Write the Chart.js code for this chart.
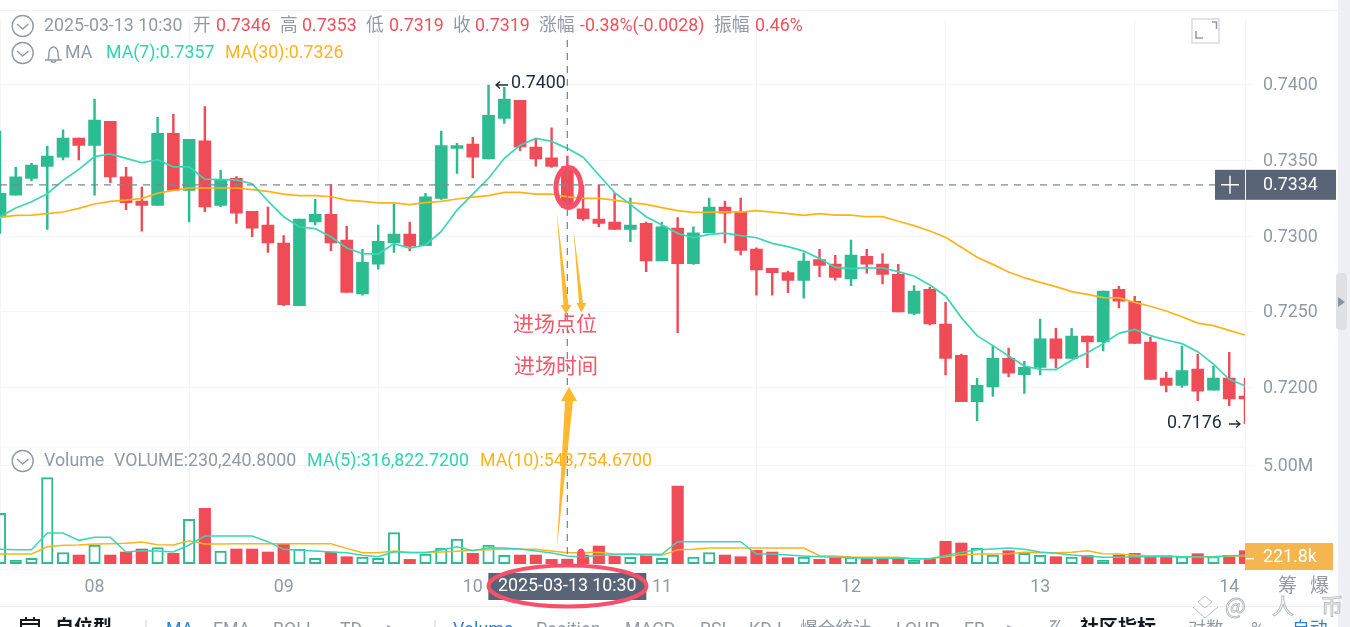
<!DOCTYPE html>
<html lang="zh">
<head>
<meta charset="utf-8">
<title>K-line 2025-03-13</title>
<script src="https://cdn.jsdelivr.net/npm/chart.js@4"></script>
<style>
  html, body { margin: 0; padding: 0; background: #fff; }
  body { width: 1350px; height: 627px; position: relative; overflow: hidden; font-family: Roboto, "Noto Sans CJK SC", sans-serif; font-size: 17.8px; color: #929aa5; }
  #wrap { position: absolute; left: 0; top: 0; width: 1350px; height: 627px; }
  #overlay { position: absolute; left: 0; top: 0; }
  .t { position: absolute; white-space: nowrap; line-height: 20px; }
  .r { color: #f0505c; } .g { color: #2fd5b0; } .o { color: #ffb31a; }
  .d { color: #1e2a44; }
  .b { color: #2b7fe0; }
  .k { color: #14181f; font-weight: 700; }
  .note { color: #f4566a; font-size: 21px; font-family: "Noto Sans CJK SC", sans-serif; }
  #strip { position: absolute; left: 1338px; top: 0; width: 12px; height: 627px; background: #eef0f6; }
  #handle { position: absolute; left: 1336px; top: 273px; width: 11px; height: 57px; background: #dfe1e5; border-radius: 4px; }
  #topline { position: absolute; left: 0; top: 10px; width: 1338px; height: 1px; background: #f1f2f4; }
  #botline { position: absolute; left: 0; top: 606px; width: 1338px; height: 1px; background: #eceef0; }
</style>
</head>
<body>
<div id="strip"></div>
<div id="wrap"><canvas id="kline" width="1350" height="627"></canvas></div>
<div id="topline"></div>
<div id="botline"></div>
<div id="handle"></div>

<!-- legend rows -->
<span class="t" style="left:44px;top:15px">2025-03-13 10:30</span>
<span class="t" style="left:193px;top:15px">开</span><span class="t r" style="left:216px;top:15px">0.7346</span>
<span class="t" style="left:280px;top:15px">高</span><span class="t r" style="left:302px;top:15px">0.7353</span>
<span class="t" style="left:366px;top:15px">低</span><span class="t r" style="left:389px;top:15px">0.7319</span>
<span class="t" style="left:453px;top:15px">收</span><span class="t r" style="left:475px;top:15px">0.7319</span>
<span class="t" style="left:539px;top:15px">涨幅</span><span class="t r" style="left:580px;top:15px">-0.38%(-0.0028)</span>
<span class="t" style="left:714px;top:15px">振幅</span><span class="t r" style="left:755px;top:15px">0.46%</span>
<span class="t" style="left:65px;top:42px">MA</span>
<span class="t g" style="left:106px;top:42px">MA(7):0.7357</span>
<span class="t o" style="left:225px;top:42px">MA(30):0.7326</span>
<span class="t" style="left:44px;top:450px">Volume</span>
<span class="t" style="left:114px;top:450px">VOLUME:230,240.8000</span>
<span class="t g" style="left:307px;top:450px">MA(5):316,822.7200</span>
<span class="t o" style="left:480px;top:450px">MA(10):543,754.6700</span>

<!-- high / low markers -->
<span class="t d" style="left:511px;top:72px">0.7400</span>
<span class="t d" style="left:1167px;top:412px">0.7176</span>

<!-- hand drawn notes -->
<span class="t note" style="left:513px;top:312px">进场点位</span>
<span class="t note" style="left:514px;top:354px">进场时间</span>

<!-- time axis side labels -->
<span class="t" style="left:1278px;top:576px;font-size:19px">筹</span>
<span class="t" style="left:1310px;top:576px;font-size:19px">爆</span>

<!-- bottom toolbar, cut off by the window -->
<span class="t k" style="left:55px;top:618px;font-size:19px">自位型</span>
<span class="t b" style="left:166px;top:619px">MA</span>
<span class="t" style="left:213px;top:619px">EMA</span>
<span class="t" style="left:273px;top:619px">BOLL</span>
<span class="t" style="left:340px;top:619px">TD</span>
<span class="t" style="left:386px;top:619px">&gt;</span>
<span class="t b" style="left:453px;top:619px">Volume</span>
<span class="t" style="left:536px;top:619px">Position</span>
<span class="t" style="left:625px;top:619px">MACD</span>
<span class="t" style="left:700px;top:619px">RSI</span>
<span class="t" style="left:749px;top:619px">KDJ</span>
<span class="t" style="left:800px;top:619px">爆仓统计</span>
<span class="t" style="left:896px;top:619px">LQUR</span>
<span class="t" style="left:964px;top:619px">EB</span>
<span class="t" style="left:1006px;top:619px">&gt;</span>
<span class="t k" style="left:1080px;top:618px;font-size:19px">社区指标</span>
<span class="t" style="left:1188px;top:619px">对数</span>
<span class="t" style="left:1251px;top:619px">%</span>
<span class="t b" style="left:1292px;top:619px">自动</span>

<svg id="overlay" width="1350" height="627" xmlns="http://www.w3.org/2000/svg">
  <!-- collapse chevrons -->
  <g fill="none" stroke="#929aa5" stroke-width="1.4">
    <circle cx="22.7" cy="26" r="10.5"/><path d="M17 24l5.7 5 5.7-5"/>
    <circle cx="22.7" cy="53" r="10.5"/><path d="M17 51l5.7 5 5.7-5"/>
    <circle cx="22.7" cy="461" r="10.5"/><path d="M17 459l5.7 5 5.7-5"/>
    <path d="M45 60h17M48 60c1-3 1-4 1-7 0-3 2-6 4.500-6s4.500 3 4.500 6c0 3 0 4 1 7M51 60c0 3 5 3 5 0"/>
  </g>
  <!-- fullscreen button -->
  <rect x="1192" y="19" width="27" height="24" fill="#fff" stroke="#dcdee2" stroke-width="1.6"/>
  <path d="M1212 22h4.500v7M1196 31v7h7" fill="none" stroke="#929aa5" stroke-width="1.5"/>
  <!-- scroll handle arrow -->
  <path d="M1338 297l7 5-7 5z" fill="#8a93a0"/>
  <!-- toolbar icon and dividers -->
  <g fill="none" stroke="#14181f" stroke-width="2"><path d="M21 627v-7h18v7M21 624h18M26 617v4M34 617v4"/></g>
  <path d="M146 620v7M435 620v7" stroke="#d5d8dc" stroke-width="1.2"/>
  <path d="M1050 621h6l-5 6M1060 620l-4 7" fill="none" stroke="#929aa5" stroke-width="1.3"/>
  <!-- marker arrows -->
  <path d="M508 85h-12M500 81.500l-4 3.500 4 3.500" fill="none" stroke="#1e2a44" stroke-width="1.3"/>
  <path d="M1229 424h11M1236 420.500l4 3.500-4 3.500" fill="none" stroke="#1e2a44" stroke-width="1.3"/>
  <!-- entry annotations -->
  <ellipse cx="568.500" cy="187.500" rx="12.500" ry="20" fill="none" stroke="#f7506a" stroke-width="5"/>
  <g fill="#ffb92e">
    <path d="M556.700 212L563.500 305H560.500L566 314L571.500 305H568.500z"/>
    <path d="M573.300 228L579 303H576.500L581.300 312.500L586.500 303H583z"/>
    <path d="M556.700 550L565 401H561L569 387L577 401H573z"/>
  </g>
  <ellipse cx="581" cy="554" rx="4" ry="5.500" fill="#f7506a"/>
  <ellipse cx="567.500" cy="586" rx="79" ry="20.500" fill="none" stroke="#f7506a" stroke-width="4"/>
  <!-- watermark -->
  <g fill="#fff" stroke="#b4b7bc" stroke-width="0.9" font-family="Noto Sans CJK SC, sans-serif">
    <path d="M1205 596l7 6-7 6-7-6zM1193 607l12 11 13-11" fill="none"/>
    <text x="1225" y="614" font-size="22">@</text>
    <text x="1272" y="614" font-size="22">人</text>
    <text x="1321" y="614" font-size="22">币</text>
  </g>
</svg>

<script>
// 2h candles, one per slot
const categories = [
  '', '', '', '', '', '', '08', '', '', '', '', '', '', '', '', '', '', '', '09', '',
  '', '', '', '', '', '', '', '', '', '', '10', '', '', '', '', '', '', '', '', '',
  '', '', '11', '', '', '', '', '', '', '', '', '', '', '', '12', '', '', '', '', '',
  '', '', '', '', '', '', '13', '', '', '', '', '', '', '', '', '', '', '', '14', ''
];
const opens = [
  .73129, .73272, .73383, .73462, .73522, .73649, .73601, .73760, .73392, .73233,
  .73204, .73680, .73303, .73630, .73204, .73383, .73165, .73074, .72955, .72541,
  .73094, .73145, .72975, .72618, .72816, .72955, .73015, .72938, .73250, .73581,
  .73610, .73511, .73779, .73898, .73590, .73519, .73460, .73182, .73114, .73094,
  .73045, .73085, .72836, .73054, .72818, .73023, .73193, .73162, .72915, .72788,
  .72759, .72708, .72845, .72816, .72717, .72867, .72816, .72748, .72490, .72649,
  .72420, .72213, .71906, .72003, .72193, .72085, .72133, .72321, .72193, .72340,
  .72301, .72649, .72570, .72301, .72063, .72014, .72122, .71983, .72063, .71944
];
const highs = [
  .73696, .73455, .73482, .73596, .73704, .73649, .73907, .73760, .73455, .73325,
  .73786, .73806, .73641, .73857, .73438, .73394, .73165, .73193, .73004, .73114,
  .73244, .73343, .73065, .72913, .73074, .73215, .73094, .73284, .73696, .73614,
  .73654, .74000, .73984, .73898, .73641, .73716, .73530, .73339, .73339, .73284,
  .73253, .73094, .73094, .73123, .73063, .73253, .73233, .73253, .72924, .72788,
  .72770, .72891, .72913, .72874, .72975, .72913, .72885, .72814, .72673, .72662,
  .72563, .72221, .72060, .72277, .72261, .72173, .72453, .72391, .72391, .72340,
  .72638, .72669, .72603, .72332, .72102, .72272, .72221, .72142, .72232, .72063
];
const lows = [
  .73019, .73272, .73365, .73045, .73504, .73504, .73272, .73354, .73176, .73034,
  .73204, .73303, .73094, .73162, .73195, .73085, .72997, .72893, .72541, .72541,
  .73074, .72904, .72629, .72611, .72783, .72893, .72904, .72938, .73244, .73416,
  .73385, .73511, .73746, .73566, .73464, .73455, .73190, .73105, .73063, .73045,
  .72964, .72766, .72836, .72362, .72814, .73023, .72955, .72876, .72611, .72611,
  .72627, .72591, .72733, .72710, .72673, .72755, .72684, .72499, .72481, .72413,
  .72083, .71906, .71781, .71941, .72072, .71961, .72083, .72129, .72193, .72131,
  .72241, .72526, .72292, .72054, .71970, .72001, .71913, .71983, .71880, .71760
];
const closes = [
  .73284, .73392, .73471, .73530, .73649, .73601, .73768, .73392, .73222, .73204,
  .73680, .73303, .73641, .73193, .73374, .73153, .73054, .72955, .72547, .73114,
  .73145, .72955, .72629, .72827, .72966, .73015, .72935, .73261, .73599, .73599,
  .73522, .73799, .73907, .73590, .73511, .73462, .73190, .73116, .73085, .73045,
  .73074, .72836, .73063, .72818, .73023, .73193, .73153, .72907, .72777, .72759,
  .72708, .72836, .72807, .72728, .72876, .72816, .72748, .72499, .72638, .72420,
  .72193, .71906, .72014, .72193, .72094, .72133, .72321, .72193, .72340, .72301,
  .72638, .72570, .72292, .72054, .72014, .72111, .71975, .72063, .71924, .71924
];
const ma7 = [
  .73129, .73187, .73228, .73281, .73369, .73442, .73526, .73544, .73515, .73486,
  .73506, .73458, .73458, .73378, .73374, .73372, .73347, .73233, .73129, .73061,
  .73050, .72997, .72922, .72885, .72882, .72951, .72922, .72942, .73032, .73173,
  .73279, .73383, .73515, .73601, .73647, .73627, .73581, .73522, .73405, .73288,
  .73211, .73129, .73074, .73019, .72990, .73012, .73021, .73004, .72990, .72953,
  .72931, .72902, .72852, .72794, .72786, .72792, .72790, .72766, .72737, .72678,
  .72605, .72462, .72343, .72277, .72208, .72142, .72120, .72118, .72180, .72230,
  .72290, .72358, .72384, .72343, .72314, .72290, .72237, .72155, .72054, .72012
];
const ma30 = [
  .73125, .73138, .73140, .73149, .73160, .73184, .73213, .73231, .73239, .73250,
  .73284, .73303, .73319, .73319, .73319, .73319, .73308, .73297, .73279, .73268,
  .73268, .73261, .73239, .73231, .73220, .73220, .73209, .73222, .73231, .73246,
  .73259, .73268, .73290, .73290, .73279, .73279, .73260, .73250, .73250, .73239,
  .73222, .73211, .73189, .73169, .73158, .73158, .73162, .73160, .73169, .73160,
  .73149, .73138, .73149, .73140, .73140, .73129, .73129, .73099, .73070, .73035,
  .72993, .72927, .72861, .72814, .72764, .72726, .72695, .72667, .72634, .72616,
  .72594, .72592, .72563, .72537, .72506, .72468, .72426, .72409, .72378, .72347
];
const volumes = [
  2559, 186, 271, 4373, 559, 441, 949, 441, 593, 746,
  814, 525, 2254, 2814, 644, 746, 746, 593, 1000, 729,
  271, 593, 356, 339, 271, 1576, 220, 492, 797, 1254,
  525, 949, 424, 441, 441, 220, 230, 441, 898, 373,
  322, 424, 271, 3949, 339, 559, 441, 356, 678, 593,
  305, 339, 220, 305, 339, 254, 254, 254, 186, 254,
  1136, 1051, 797, 441, 661, 525, 424, 356, 339, 424,
  186, 441, 525, 356, 424, 356, 508, 356, 424, 661
].map(v => v * 1000);
const volMa5 = [
  729, 712, 712, 1559, 1559, 1186, 1339, 1339, 593, 661,
  644, 593, 949, 1407, 1407, 1407, 1407, 1119, 729, 678,
  644, 593, 559, 424, 356, 610, 559, 559, 695, 864,
  661, 814, 797, 746, 644, 542, 390, 339, 424, 458,
  475, 475, 475, 1119, 1119, 1119, 1119, 1119, 492, 492,
  441, 390, 356, 322, 305, 271, 271, 271, 254, 254,
  407, 576, 712, 746, 797, 729, 593, 525, 441, 390,
  322, 322, 356, 356, 356, 356, 339, 356, 407, 424
].map(v => v * 1000);
const volMa10 = [
  492, 492, 492, 864, 932, 949, 1000, 1017, 1034, 1102,
  966, 949, 1170, 1000, 1000, 1017, 1017, 1017, 1017, 1017,
  1017, 1017, 780, 559, 559, 644, 576, 576, 593, 627,
  678, 712, 729, 729, 729, 644, 559, 559, 576, 492,
  492, 424, 424, 712, 729, 797, 797, 797, 797, 797,
  797, 797, 407, 390, 339, 322, 322, 322, 254, 254,
  356, 458, 492, 492, 509, 576, 559, 559, 576, 661,
  509, 492, 424, 407, 407, 356, 356, 356, 373, 407
].map(v => v * 1000);
const priceTicks = [0.72, 0.725, 0.73, 0.735, 0.74];
const volumeTicks = [5000000];
const crossPrice = 0.7334;
const crossIndex = 36;
const crossTime = '2025-03-13 10:30';
const lastVolumeLabel = '221.8k';

const UP = '#2dbb92';
const DOWN = '#f04c58';
const GRID = '#f5f6f7';
const TICK_TEXT = '#929aa5';
const FONT = { family: 'Roboto', size: 17.8 };

const candleColors = closes.map((c, i) => (c >= opens[i] ? UP : DOWN));
const bodies = opens.map((o, i) => [o, closes[i]]);
const wicks = lows.map((l, i) => [l, highs[i]]);

// crosshair, its axis tags and the pane separators
const crosshairPlugin = {
  id: 'crosshair',
  afterDatasetsDraw(chart) {
    const { ctx, scales } = chart;
    const y = scales.y.getPixelForValue(crossPrice);
    const x = scales.x.getPixelForValue(crossIndex);
    ctx.save();
    ctx.strokeStyle = GRID;
    ctx.lineWidth = 1;
    ctx.beginPath();
    ctx.moveTo(0, scales.y.bottom);
    ctx.lineTo(scales.x.right, scales.y.bottom);
    ctx.stroke();

    ctx.strokeStyle = '#7f8797';
    ctx.lineWidth = 1.3;
    ctx.setLineDash([7, 6]);
    ctx.beginPath();
    ctx.moveTo(0, y);
    ctx.lineTo(1215, y);
    ctx.moveTo(x, 40);
    ctx.lineTo(x, scales.x.top);
    ctx.stroke();
    ctx.setLineDash([]);

    ctx.fillStyle = '#5a6477';
    ctx.fillRect(1215, y - 15, 30, 30);
    ctx.fillRect(1246, y - 15, 90, 30);
    ctx.fillRect(x - 79, 573, 158, 27);
    ctx.strokeStyle = '#fff';
    ctx.lineWidth = 1.4;
    ctx.beginPath();
    ctx.moveTo(1221, y);
    ctx.lineTo(1239, y);
    ctx.moveTo(1230, y - 9);
    ctx.lineTo(1230, y + 9);
    ctx.stroke();

    ctx.fillStyle = '#fff';
    ctx.font = '17.8px Roboto';
    ctx.textBaseline = 'middle';
    ctx.fillText(crossPrice.toFixed(4), 1263, y + 0.5);
    ctx.textAlign = 'center';
    ctx.fillText(crossTime, x, 586.5);
    ctx.textAlign = 'left';

    ctx.fillStyle = '#f6b64f';
    ctx.fillRect(1245, 543, 88, 27);
    ctx.fillStyle = '#fff';
    ctx.fillRect(1246, 558, 8, 1.4);
    ctx.fillText(lastVolumeLabel, 1263, 558);
    ctx.restore();
  }
};

new Chart(document.getElementById('kline'), {
  type: 'bar',
  data: {
    labels: categories,
    datasets: [
      { label: 'wick', data: wicks, yAxisID: 'y', backgroundColor: candleColors, barThickness: 1.8, order: 4 },
      { label: 'body', data: bodies, yAxisID: 'y', backgroundColor: candleColors, barThickness: 12, order: 3 },
      { type: 'line', label: 'MA(7)', data: ma7, yAxisID: 'y', borderColor: '#3ad6b5', borderWidth: 1.7, pointRadius: 0, order: 1 },
      { type: 'line', label: 'MA(30)', data: ma30, yAxisID: 'y', borderColor: '#ffb31a', borderWidth: 1.7, pointRadius: 0, order: 1 },
      {
        label: 'Volume', data: volumes, yAxisID: 'v',
        backgroundColor: candleColors.map(c => (c === UP ? 'rgba(255,255,255,0)' : DOWN)),
        borderColor: candleColors,
        borderWidth: candleColors.map(c => (c === UP ? 1.3 : 0)),
        borderSkipped: false,
        barThickness: 11.5, order: 3
      },
      { type: 'line', label: 'MA(5)', data: volMa5, yAxisID: 'v', borderColor: '#3ad6b5', borderWidth: 1.5, pointRadius: 0, order: 1 },
      { type: 'line', label: 'MA(10)', data: volMa10, yAxisID: 'v', borderColor: '#ffb31a', borderWidth: 1.5, pointRadius: 0, order: 1 }
    ]
  },
  options: {
    responsive: false,
    animation: false,
    layout: { padding: { top: 10 }, autoPadding: false },
    datasets: { bar: { grouped: false } },
    plugins: { legend: { display: false }, tooltip: { enabled: false } },
    scales: {
      x: {
        type: 'category',
        offset: false,
        afterFit(scale) { scale.height = 57; },
        grid: { color: GRID, drawTicks: false },
        border: { color: GRID },
        ticks: {
          autoSkip: false, maxRotation: 0, padding: 7, color: TICK_TEXT, font: FONT,
          callback(value) { return categories[value] || null; }
        }
      },
      y: {
        position: 'right', stack: 'pane', stackWeight: 426.3,
        min: 0.716066, max: 0.744251,
        afterFit(scale) { scale.width = 105; },
        afterBuildTicks(scale) { scale.ticks = priceTicks.map(value => ({ value })); },
        grid: { color: GRID, tickLength: 8 },
        border: { color: GRID },
        ticks: { padding: 10, labelOffset: 1, color: TICK_TEXT, font: FONT, callback: v => v.toFixed(4) }
      },
      v: {
        position: 'right', stack: 'pane', stackWeight: 123,
        min: -320000, max: 5930000,
        afterFit(scale) { scale.width = 105; },
        afterBuildTicks(scale) { scale.ticks = volumeTicks.map(value => ({ value })); },
        grid: { color: GRID, tickLength: 8 },
        border: { color: GRID },
        ticks: { padding: 10, labelOffset: 1.5, color: TICK_TEXT, font: FONT, callback: v => (v / 1000000).toFixed(2) + 'M' }
      }
    }
  },
  plugins: [crosshairPlugin]
});
</script>
</body>
</html>
